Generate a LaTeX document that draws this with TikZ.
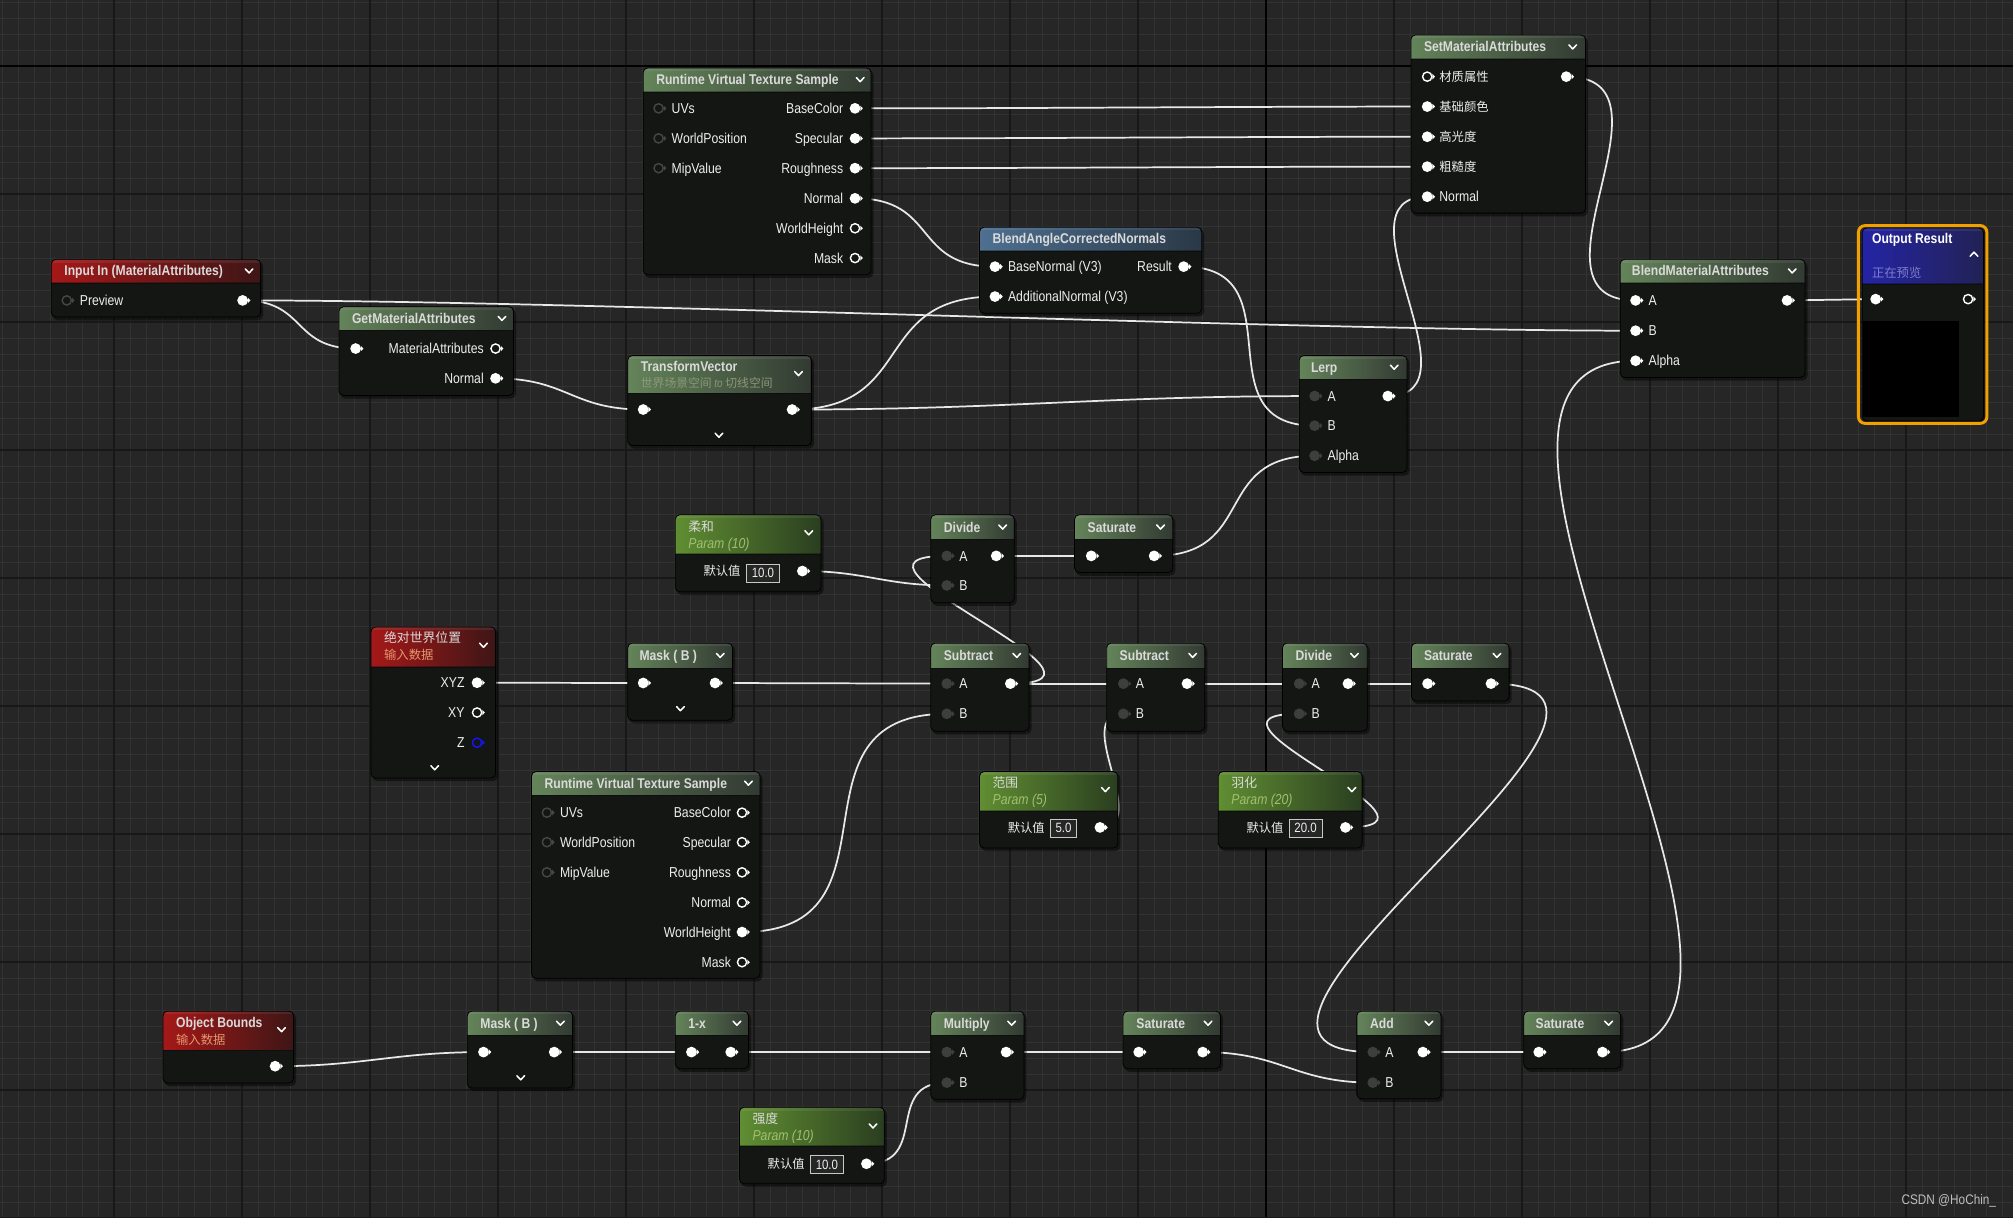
\documentclass[tikz,border=0pt]{standalone}
\usepackage{fontspec}
\setmainfont{Liberation Sans}[FakeStretch=0.85]
\newfontfamily\hdrfont{Liberation Sans}[FakeStretch=0.86]
\newfontfamily\cjk{Noto Sans CJK SC}
\pgfdeclarelayer{bglayer}
\pgfdeclarelayer{wirelayer}
\pgfsetlayers{bglayer,wirelayer,main}

\definecolor{bgc}{RGB}{38,38,38}
\definecolor{minorc}{RGB}{50,50,50}
\definecolor{majorc}{RGB}{24,24,24}
\definecolor{bodyc}{RGB}{20,22,20}
\definecolor{wirec}{RGB}{232,232,232}
\definecolor{hdrtxt}{RGB}{218,218,218}
\definecolor{txt}{RGB}{238,238,238}
\definecolor{gA}{RGB}{100,132,90}
\definecolor{gB}{RGB}{50,58,50}
\definecolor{pA}{RGB}{96,142,50}
\definecolor{pB}{RGB}{42,62,32}
\definecolor{rA}{RGB}{165,24,24}
\definecolor{rB}{RGB}{62,22,22}
\definecolor{bA}{RGB}{78,112,145}
\definecolor{bB}{RGB}{42,56,70}
\definecolor{oA}{RGB}{36,36,165}
\definecolor{oB}{RGB}{34,34,85}
\definecolor{orangec}{RGB}{240,160,0}
\definecolor{pindark}{RGB}{70,70,70}
\definecolor{pingray}{RGB}{62,62,62}
\definecolor{zblue}{RGB}{20,20,255}
\definecolor{paramsub}{RGB}{160,192,110}
\definecolor{redsub}{RGB}{228,150,110}
\definecolor{tvsub}{RGB}{140,152,122}
\definecolor{outsub}{RGB}{125,125,205}
\definecolor{valborder}{RGB}{200,200,200}
\definecolor{wmc}{RGB}{190,190,190}

\tikzset{
  wire/.style={draw=wirec, line width=1.35pt},
  chevron/.style={draw=white, line width=1.2pt, line cap=round, line join=round},
  pinf/.style={circle, fill=white, minimum size=8.4pt, inner sep=0pt, outer sep=0pt},
  pino/.style={circle, draw=white, fill=bodyc, line width=1.1pt, minimum size=7.2pt, inner sep=0pt, outer sep=0pt},
  pind/.style={circle, draw=pindark, fill=bodyc, line width=1.1pt, minimum size=7.2pt, inner sep=0pt, outer sep=0pt},
  ping/.style={circle, fill=pingray, minimum size=8.4pt, inner sep=0pt, outer sep=0pt},
  pinz/.style={circle, draw=zblue, fill=bodyc, line width=1.1pt, minimum size=7.2pt, inner sep=0pt, outer sep=0pt},
  lbl/.style={text=txt, font=\fontsize{11.2}{13}\selectfont, inner sep=0pt, text height=8pt, text depth=0pt},
  lblw/.style={lbl, anchor=west},
  lble/.style={lbl, anchor=east},
  cjkw/.style={text=txt, font=\cjk\fontsize{9.6}{11}\selectfont, inner sep=0pt, anchor=west},
  cjke/.style={text=txt, font=\cjk\fontsize{9.6}{11}\selectfont, inner sep=0pt, anchor=east},
  hdr/.style={text=hdrtxt, font=\hdrfont\bfseries\fontsize{11}{13}\selectfont, inner sep=0pt, anchor=west, text height=7.9pt, text depth=0pt},
  hdrc/.style={text=hdrtxt, font=\cjk\fontsize{10}{11}\selectfont, inner sep=0pt, anchor=west},
  subp/.style={text=paramsub, font=\itshape\fontsize{11.2}{13}\selectfont, inner sep=0pt, anchor=west, text height=8pt, text depth=0pt},
  subr/.style={text=redsub, font=\cjk\fontsize{9.6}{11}\selectfont, inner sep=0pt, anchor=west},
  subtv/.style={text=tvsub, font=\cjk\fontsize{9.2}{11}\selectfont, inner sep=0pt, anchor=west},
  subo/.style={text=outsub, font=\cjk\fontsize{9.6}{11}\selectfont, inner sep=0pt, anchor=west},
  valbox/.style={draw=valborder, line width=0.6pt, fill=black!85, inner sep=0pt, minimum height=14pt, text=txt, font=\fontsize{10.5}{12}\selectfont},
}

% body box: name, x1, y1, x2, y2, header bottom, header colour left, right
\newcommand\uebox[8]{%
  \fill[black,opacity=0.45,rounded corners=4pt] (#2+1,#3+1.5) rectangle (#4+2,#5+2.5);
  \node[fill=bodyc, rounded corners=3.5pt, minimum width={(#4-#2)*1pt}, minimum height={(#5-#3)*1pt}, inner sep=0pt, outer sep=0pt] (#1) at ({(#2+#4)/2},{(#3+#5)/2}) {};
  \begin{scope}
    \clip[rounded corners=3.5pt] (#2,#3) rectangle (#4,#5);
    \shade[left color=#7, right color=#8] (#2,#3) rectangle (#4,#6);
    \fill[white,opacity=0.07] (#2,#3) rectangle (#4,#3+2.5);
    \fill[black,opacity=0.3] (#2,#6) rectangle (#4,#6+1.2);
  \end{scope}
  \draw[rounded corners=3.5pt, line width=0.6pt, draw=black] (#2,#3) rectangle (#4,#5);
}
\newcommand\chv[2]{\draw[chevron] (#1-3,#2-1.6) -- (#1,#2+1.6) -- (#1+3,#2-1.6);}
\newcommand\chvu[2]{\draw[chevron] (#1-3,#2+1.6) -- (#1,#2-1.6) -- (#1+3,#2+1.6);}
\newcommand\upin[5]{\node[#1] (#3) at (#4,#5) {};\fill[#2] (#4+4.1,#5-2.1) -- (#4+6.1,#5) -- (#4+4.1,#5+2.1) -- cycle;}
\newcommand\pF[3]{\upin{pinf}{white}{#1}{#2}{#3}}
\newcommand\pO[3]{\upin{pino}{white}{#1}{#2}{#3}}
\newcommand\pD[3]{\upin{pind}{pindark}{#1}{#2}{#3}}
\newcommand\pG[3]{\upin{ping}{pingray}{#1}{#2}{#3}}
\newcommand\pZ[3]{\upin{pinz}{zblue}{#1}{#2}{#3}}

\begin{document}
\begin{tikzpicture}[x=1pt,y=-1pt]
\useasboundingbox (0,0) rectangle (1568,948);
\begin{pgfonlayer}{bglayer}
  \fill[bgc] (0,0) rectangle (1568,948);
  \foreach \i in {-7,...,118} \draw[minorc, line width=0.6pt] ({88.8+12.4625*\i},0) -- ++(0,948);
  \foreach \j in {-4,...,72} \draw[minorc, line width=0.6pt] (0,{51.4+12.4625*\j}) -- ++(1568,0);
  \foreach \i in {-1,...,15} \draw[majorc, line width=1.1pt] ({88.8+99.7*\i},0) -- ++(0,948);
  \foreach \j in {0,...,9} \draw[majorc, line width=1.1pt] (0,{51.4+99.7*\j}) -- ++(1568,0);
  \draw[black, line width=1.5pt] (986.1,0) -- (986.1,948);
  \draw[black, line width=1.5pt] (0,51.4) -- (1568,51.4);
\end{pgfonlayer}

% ---------- Input In
\uebox{inp}{40}{202}{203}{247}{220}{rA}{rB}
\node[hdr] (inp-t) at (50,211) {Input In (MaterialAttributes)};
\chv{194}{211}
\pD{inp-pv}{52}{234}
\node[lblw] (inp-l) at (62,234) {Preview};
\pF{inp-prev}{189}{234}

% ---------- GetMaterialAttributes
\uebox{gma}{264}{239}{400}{308}{257}{gA}{gB}
\node[hdr] (gma-t) at (274,248) {GetMaterialAttributes};
\chv{391}{248}
\pF{gma-in}{277}{271.5}
\node[lble] (gma-l1) at (377,271.5) {MaterialAttributes};
\pO{gma-ma}{386}{271.5}
\node[lble] (gma-l2) at (377,294.7) {Normal};
\pF{gma-n}{386}{294.7}

% ---------- RVT top
\uebox{rvta}{501}{53}{678.5}{214}{71}{gA}{gB}
\node[hdr] (rvta-t) at (511,62) {Runtime Virtual Texture Sample};
\chv{670}{62}
\pD{rvta-uv}{513}{84.4} \node[lblw] (rvta-l1) at (523,84.4) {UVs};
\pD{rvta-wp}{513}{107.8} \node[lblw] (rvta-l2) at (523,107.8) {WorldPosition};
\pD{rvta-mip}{513}{131} \node[lblw] (rvta-l3) at (523,131) {MipValue};
\node[lble] (rvta-r1) at (657,84.4) {BaseColor}; \pF{rvta-bc}{666}{84.4}
\node[lble] (rvta-r2) at (657,107.8) {Specular}; \pF{rvta-spec}{666}{107.8}
\node[lble] (rvta-r3) at (657,131) {Roughness}; \pF{rvta-rough}{666}{131}
\node[lble] (rvta-r4) at (657,154.5) {Normal}; \pF{rvta-n}{666}{154.5}
\node[lble] (rvta-r5) at (657,177.8) {WorldHeight}; \pO{rvta-wh}{666}{177.8}
\node[lble] (rvta-r6) at (657,201) {Mask}; \pO{rvta-mask}{666}{201}

% ---------- BlendAngleCorrectedNormals
\uebox{bacn}{763}{177}{936}{244}{195}{bA}{bB}
\node[hdr] (bacn-t) at (773,186) {BlendAngleCorrectedNormals};
\pF{bacn-base}{775}{207.7} \node[lblw] (bacn-l1) at (785,207.7) {BaseNormal (V3)};
\node[lble] (bacn-l3) at (913,207.7) {Result}; \pF{bacn-res}{922}{207.7}
\pF{bacn-add}{775}{231} \node[lblw] (bacn-l2) at (785,231) {AdditionalNormal (V3)};

% ---------- TransformVector
\uebox{tv}{489}{277}{632}{347}{306}{gA}{gB}
\node[hdr] (tv-t) at (499,285.5) {TransformVector};
\node[subtv] (tv-s) at (499,298.5) {世界场景空间 {\rmfamily\itshape to} 切线空间};
\chv{622}{291}
\pF{tv-in}{501}{319}
\pF{tv-out}{617}{319}
\chv{560}{339}

% ---------- SetMaterialAttributes
\uebox{sma}{1099}{27.3}{1235}{166}{45.5}{gA}{gB}
\node[hdr] (sma-t) at (1109,36.5) {SetMaterialAttributes};
\chv{1225}{36.5}
\pO{sma-attr}{1111.7}{59.7} \node[cjkw] (sma-l1) at (1121,59.7) {材质属性};
\pF{sma-out}{1220}{59.7}
\pF{sma-bc}{1111.7}{83} \node[cjkw] (sma-l2) at (1121,83) {基础颜色};
\pF{sma-spec}{1111.7}{106.5} \node[cjkw] (sma-l3) at (1121,106.5) {高光度};
\pF{sma-rough}{1111.7}{129.8} \node[cjkw] (sma-l4) at (1121,129.8) {粗糙度};
\pF{sma-n}{1111.7}{153.2} \node[lblw] (sma-l5) at (1121,153.2) {Normal};

% ---------- BlendMaterialAttributes
\uebox{bma}{1262}{202}{1406}{294}{220}{gA}{gB}
\node[hdr] (bma-t) at (1271,211) {BlendMaterialAttributes};
\chv{1396}{211}
\pF{bma-a}{1274}{234} \node[lblw] (bma-l1) at (1284,234) {A};
\pF{bma-out}{1392}{234}
\pF{bma-b}{1274}{257.6} \node[lblw] (bma-l2) at (1284,257.6) {B};
\pF{bma-alpha}{1274}{281} \node[lblw] (bma-l3) at (1284,281) {Alpha};

% ---------- Output Result
\uebox{outr}{1450.5}{177.6}{1545}{328}{220.7}{oA}{oB}
\node[draw=orangec, line width=2.3pt, rounded corners=5pt, minimum width=100pt, minimum height=154pt, inner sep=0pt] (outr-sel) at (1497.6,252.75) {};
\node[hdr, text=white] (outr-t) at (1458,186) {Output Result};
\node[subo] (outr-s) at (1458,212.4) {正在预览};
\chvu{1537.6}{198}
\pF{outr-in}{1461}{233}
\pO{outr-out}{1533}{233}
\node[fill=black, minimum width=74.6pt, minimum height=74.6pt, inner sep=0pt] (outr-prev) at (1488.3,287.3) {};

% ---------- Lerp
\uebox{lerp}{1012}{277}{1096}{368}{295}{gA}{gB}
\node[hdr] (lerp-t) at (1021,286) {Lerp};
\chv{1086}{286}
\pG{lerp-a}{1024}{308.5} \node[lblw] (lerp-l1) at (1034,308.5) {A};
\pF{lerp-out}{1081}{308.5}
\pG{lerp-b}{1024}{331.6} \node[lblw] (lerp-l2) at (1034,331.6) {B};
\pG{lerp-alpha}{1024}{355} \node[lblw] (lerp-l3) at (1034,355) {Alpha};

% ---------- 柔和
\uebox{rouhe}{526}{401}{639.5}{461}{431}{pA}{pB}
\node[hdrc] (rouhe-t) at (536,410) {柔和};
\node[subp] (rouhe-s) at (536,423) {Param (10)};
\chv{630}{415}
\node[cjke] (rouhe-l) at (577,444.8) {默认值};
\node[valbox, minimum width=25.4pt] (rouhe-v) at (594.3,446.5) {10.0};
\pF{rouhe-out}{625}{444.8}

% ---------- Divide (top)
\uebox{divA}{725}{401}{790}{469.5}{419.5}{gA}{gB}
\node[hdr] (divA-t) at (735,410.5) {Divide};
\chv{781}{410.5}
\pG{divA-a}{737.5}{433} \node[lblw] (divA-l1) at (747,433) {A};
\pF{divA-out}{776}{433}
\pG{divA-b}{737.5}{456} \node[lblw] (divA-l2) at (747,456) {B};

% ---------- Saturate (top)
\uebox{satA}{837}{401}{913.5}{446}{419.5}{gA}{gB}
\node[hdr] (satA-t) at (847,410.5) {Saturate};
\chv{904}{410.5}
\pF{satA-in}{850}{433}
\pF{satA-out}{899}{433}

% ---------- 绝对世界位置
\uebox{awp}{289}{488.4}{386}{606}{519}{rA}{rB}
\node[hdrc] (awp-t) at (299,497) {绝对世界位置};
\node[subr] (awp-s) at (299,510) {输入数据};
\chv{376.6}{502.6}
\node[lble] (awp-l1) at (362,531.8) {XYZ}; \pF{awp-xyz}{371.6}{531.8}
\node[lble] (awp-l2) at (362,555) {XY}; \pO{awp-xy}{371.6}{555}
\node[lble] (awp-l3) at (362,578.5) {Z}; \pZ{awp-z}{371.6}{578.5}
\chv{338.6}{598}

% ---------- Mask (B) mid
\uebox{maskA}{489}{501}{570.6}{561}{520}{gA}{gB}
\node[hdr] (maskA-t) at (498,510.5) {Mask ( B )};
\chv{561}{510.5}
\pF{maskA-in}{501}{532}
\pF{maskA-out}{557}{532}
\chv{530}{552}

% ---------- Subtract 1
\uebox{subA}{725}{501}{801.5}{569.5}{520}{gA}{gB}
\node[hdr] (subA-t) at (735,510.5) {Subtract};
\chv{792}{510.5}
\pG{subA-a}{737.5}{532.5} \node[lblw] (subA-l1) at (747,532.5) {A};
\pF{subA-out}{787}{532.5}
\pG{subA-b}{737.5}{556} \node[lblw] (subA-l2) at (747,556) {B};

% ---------- Subtract 2
\uebox{subB}{862}{501}{938.5}{569.5}{520}{gA}{gB}
\node[hdr] (subB-t) at (872,510.5) {Subtract};
\chv{929}{510.5}
\pG{subB-a}{875}{532.5} \node[lblw] (subB-l1) at (884.5,532.5) {A};
\pF{subB-out}{924.6}{532.5}
\pG{subB-b}{875}{556} \node[lblw] (subB-l2) at (884.5,556) {B};

% ---------- Divide 2
\uebox{divB}{999}{501}{1065}{569.5}{520}{gA}{gB}
\node[hdr] (divB-t) at (1009,510.5) {Divide};
\chv{1055}{510.5}
\pG{divB-a}{1012}{532.5} \node[lblw] (divB-l1) at (1021.5,532.5) {A};
\pF{divB-out}{1050}{532.5}
\pG{divB-b}{1012}{556} \node[lblw] (divB-l2) at (1021.5,556) {B};

% ---------- Saturate 2
\uebox{satB}{1099.4}{501}{1175.5}{546}{520}{gA}{gB}
\node[hdr] (satB-t) at (1109,510.5) {Saturate};
\chv{1166}{510.5}
\pF{satB-in}{1112}{532.5}
\pF{satB-out}{1161.4}{532.5}

% ---------- RVT bottom
\uebox{rvtb}{414}{601}{592}{762}{619}{gA}{gB}
\node[hdr] (rvtb-t) at (424,610) {Runtime Virtual Texture Sample};
\chv{583}{610}
\pD{rvtb-uv}{426}{633} \node[lblw] (rvtb-l1) at (436,633) {UVs};
\pD{rvtb-wp}{426}{656} \node[lblw] (rvtb-l2) at (436,656) {WorldPosition};
\pD{rvtb-mip}{426}{679.5} \node[lblw] (rvtb-l3) at (436,679.5) {MipValue};
\node[lble] (rvtb-r1) at (569.5,633) {BaseColor}; \pO{rvtb-bc}{578}{633}
\node[lble] (rvtb-r2) at (569.5,656) {Specular}; \pO{rvtb-spec}{578}{656}
\node[lble] (rvtb-r3) at (569.5,679.5) {Roughness}; \pO{rvtb-rough}{578}{679.5}
\node[lble] (rvtb-r4) at (569.5,703) {Normal}; \pO{rvtb-n}{578}{703}
\node[lble] (rvtb-r5) at (569.5,726) {WorldHeight}; \pF{rvtb-wh}{578}{726}
\node[lble] (rvtb-r6) at (569.5,749.5) {Mask}; \pO{rvtb-mask}{578}{749.5}

% ---------- 范围
\uebox{fanwei}{763}{601}{870.7}{660.5}{631}{pA}{pB}
\node[hdrc] (fanwei-t) at (773,609.5) {范围};
\node[subp] (fanwei-s) at (773,622.5) {Param (5)};
\chv{861}{615}
\node[cjke] (fanwei-l) at (814,644.5) {默认值};
\node[valbox, minimum width=20.7pt] (fanwei-v) at (828.4,645) {5.0};
\pF{fanwei-out}{856.8}{644.5}

% ---------- 羽化
\uebox{yuhua}{949}{601}{1061}{660.5}{631}{pA}{pB}
\node[hdrc] (yuhua-t) at (959,609.5) {羽化};
\node[subp] (yuhua-s) at (959,622.5) {Param (20)};
\chv{1053}{615}
\node[cjke] (yuhua-l) at (1000,644.5) {默认值};
\node[valbox, minimum width=26pt] (yuhua-v) at (1017,645) {20.0};
\pF{yuhua-out}{1048}{644.5}

% ---------- Object Bounds
\uebox{obj}{127}{787.6}{228.6}{843.6}{817.6}{rA}{rB}
\node[hdr] (obj-t) at (137,796.6) {Object Bounds};
\node[subr] (obj-s) at (137,810) {输入数据};
\chv{219.3}{802}
\pF{obj-out}{214.3}{830.5}

% ---------- Mask (B) bottom
\uebox{maskB}{364}{787.6}{446}{847.5}{806}{gA}{gB}
\node[hdr] (maskB-t) at (374,797) {Mask ( B )};
\chv{436.5}{797}
\pF{maskB-in}{376.6}{819.5}
\pF{maskB-out}{431.7}{819.5}
\chv{405.6}{839.5}

% ---------- 1-x
\uebox{onex}{526}{787.6}{583}{832.4}{806}{gA}{gB}
\node[hdr] (onex-t) at (536,797) {1-x};
\chv{574}{797}
\pF{onex-in}{538.6}{819.5}
\pF{onex-out}{569.2}{819.5}

% ---------- Multiply
\uebox{mul}{725}{787.6}{797.6}{856.3}{806}{gA}{gB}
\node[hdr] (mul-t) at (735,797) {Multiply};
\chv{788}{797}
\pG{mul-a}{737.5}{819.5} \node[lblw] (mul-l1) at (747,819.5) {A};
\pF{mul-out}{783.7}{819.5}
\pG{mul-b}{737.5}{843.3} \node[lblw] (mul-l2) at (747,843.3) {B};

% ---------- Saturate 3
\uebox{satC}{874.8}{787.6}{950.6}{832.4}{806}{gA}{gB}
\node[hdr] (satC-t) at (885,797) {Saturate};
\chv{941}{797}
\pF{satC-in}{887}{819.5}
\pF{satC-out}{936.8}{819.5}

% ---------- 强度
\uebox{qiangdu}{576}{862.5}{688.8}{922}{892}{pA}{pB}
\node[hdrc] (qiangdu-t) at (586,871) {强度};
\node[subp] (qiangdu-s) at (586,884) {Param (10)};
\chv{680}{877}
\node[cjke] (qiangdu-l) at (627,906.5) {默认值};
\node[valbox, minimum width=25.4pt] (qiangdu-v) at (644.1,907) {10.0};
\pF{qiangdu-out}{674.9}{906.5}

% ---------- Add
\uebox{add}{1056.9}{787.6}{1122.4}{855.8}{806}{gA}{gB}
\node[hdr] (add-t) at (1067,797) {Add};
\chv{1113}{797}
\pG{add-a}{1069.3}{819.5} \node[lblw] (add-l1) at (1079,819.5) {A};
\pF{add-out}{1108.3}{819.5}
\pG{add-b}{1069.3}{843.3} \node[lblw] (add-l2) at (1079,843.3) {B};

% ---------- Saturate 4
\uebox{satD}{1186.9}{787.6}{1262.4}{832.4}{806}{gA}{gB}
\node[hdr] (satD-t) at (1196,797) {Saturate};
\chv{1253}{797}
\pF{satD-in}{1198.6}{819.5}
\pF{satD-out}{1248.2}{819.5}

% ---------- watermark
\node[anchor=east, text=wmc, font=\fontsize{10.8}{12}\selectfont, inner sep=0pt] (wm) at (1555,935) {CSDN @HoChin\_};

% ---------- wires
\begin{pgfonlayer}{wirelayer}
\draw[wire] (inp-prev.center) .. controls +(50,0) and +(-50,0) .. (gma-in.center);
\draw[wire] (inp-prev.center) .. controls +(260,0) and +(-260,0) .. (bma-b.center);
\draw[wire] (gma-n.center) .. controls +(56,0) and +(-56,0) .. (tv-in.center);
\draw[wire] (tv-out.center) .. controls +(98,0) and +(-98,0) .. (bacn-add.center);
\draw[wire] (tv-out.center) .. controls +(167,0) and +(-167,0) .. (lerp-a.center);
\draw[wire] (rvta-bc.center) .. controls +(150,0) and +(-150,0) .. (sma-bc.center);
\draw[wire] (rvta-spec.center) .. controls +(150,0) and +(-150,0) .. (sma-spec.center);
\draw[wire] (rvta-rough.center) .. controls +(150,0) and +(-150,0) .. (sma-rough.center);
\draw[wire] (rvta-n.center) .. controls +(65,0) and +(-65,0) .. (bacn-base.center);
\draw[wire] (bacn-res.center) .. controls +(90,0) and +(-90,0) .. (lerp-b.center);
\draw[wire] (lerp-out.center) .. controls +(75,0) and +(-75,0) .. (sma-n.center);
\draw[wire] (sma-out.center) .. controls +(95,0) and +(-95,0) .. (bma-a.center);
\draw[wire] (bma-out.center) -- (outr-in.center);
\draw[wire] (satD-out.center) .. controls +(200,0) and +(-200,0) .. (bma-alpha.center);
\draw[wire] (satA-out.center) .. controls +(81,0) and +(-81,0) .. (lerp-alpha.center);
\draw[wire] (rouhe-out.center) .. controls +(49,0) and +(-49,0) .. (divA-b.center);
\draw[wire] (subA-out.center) .. controls +(108,0) and +(-108,0) .. (divA-a.center);
\draw[wire] (divA-out.center) -- (satA-in.center);
\draw[wire] (subA-out.center) -- (subB-a.center);
\draw[wire] (awp-xyz.center) -- (maskA-in.center);
\draw[wire] (maskA-out.center) -- (subA-a.center);
\draw[wire] (rvtb-wh.center) .. controls +(132,0) and +(-132,0) .. (subA-b.center);
\draw[wire] (subB-out.center) -- (divB-a.center);
\draw[wire] (fanwei-out.center) .. controls +(42,0) and +(-42,0) .. (subB-b.center);
\draw[wire] (yuhua-out.center) .. controls +(100,0) and +(-100,0) .. (divB-b.center);
\draw[wire] (divB-out.center) -- (satB-in.center);
\draw[wire] (satB-out.center) .. controls +(180,0) and +(-180,0) .. (add-a.center);
\draw[wire] (add-out.center) -- (satD-in.center);
\draw[wire] (satC-out.center) .. controls +(62,0) and +(-62,0) .. (add-b.center);
\draw[wire] (mul-out.center) -- (satC-in.center);
\draw[wire] (onex-out.center) -- (mul-a.center);
\draw[wire] (maskB-out.center) -- (onex-in.center);
\draw[wire] (obj-out.center) .. controls +(69,0) and +(-69,0) .. (maskB-in.center);
\draw[wire] (qiangdu-out.center) .. controls +(50,0) and +(-50,0) .. (mul-b.center);
\end{pgfonlayer}
\end{tikzpicture}
\end{document}
